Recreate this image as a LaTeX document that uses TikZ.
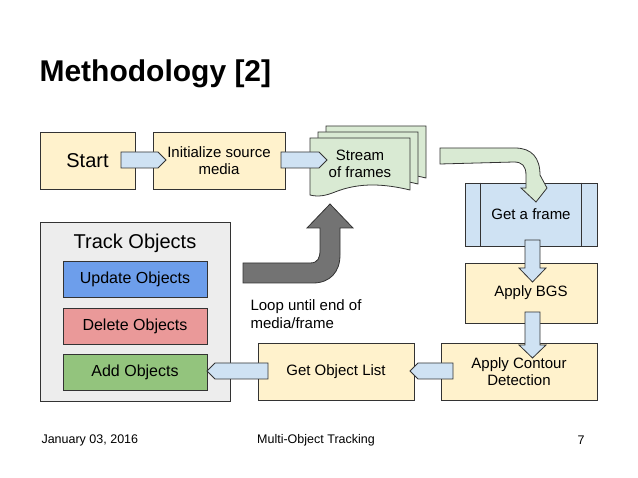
\documentclass[tikz,border=0pt]{standalone}
\usepackage{fontspec}
\setmainfont{Liberation Sans}
\begin{document}
\begin{tikzpicture}[x=1pt,y=-1pt,
  box/.style={draw=black!80,line width=0.8pt,fill=yel,align=center,font=\fontsize{15}{17}\selectfont},
  ar/.style={draw=black!80,line width=0.8pt,fill=lblue}]
\definecolor{yel}{HTML}{FFF2CC}
\definecolor{lblue}{HTML}{CFE2F3}
\definecolor{lgreen}{HTML}{D9EAD3}
\definecolor{upd}{HTML}{6D9EEB}
\definecolor{del}{HTML}{EA9999}
\definecolor{add}{HTML}{93C47D}
\useasboundingbox (0,0) rectangle (638,478);
\node[anchor=west,font=\bfseries\fontsize{30}{34}\selectfont] (title) at (36,74) {Methodology [2]};
% boxes
\node[box,minimum width=95,minimum height=57,font=\fontsize{20}{22}\selectfont] (start) at (87.5,160.5) {Start};
\node[box,minimum width=132,minimum height=57] (init) at (219,160.5) {Initialize source\\media};
% stream of frames
\foreach \dx/\dy in {16/-12,8/-6}{
 \draw[black!80,line width=0.8pt,fill=lgreen,shift={(\dx,\dy)}] (310,138) -- (410,138) -- (410,190) .. controls (385,184) and (360,182) .. (335,192) .. controls (325,196) and (318,197) .. (310,195) -- cycle;}
\draw[black!80,line width=0.8pt,fill=lgreen] (310,138) -- (410,138) -- (410,190) .. controls (385,184) and (360,182) .. (335,192) .. controls (325,196) and (318,197) .. (310,195) -- cycle;
\node[align=center,font=\fontsize{15}{17}\selectfont] (stream) at (360,164) {Stream\\of frames};
% get a frame
\node[box,fill=lblue,minimum width=132,minimum height=63] (get) at (531,214.5) {Get a frame};
\draw[black!80,line width=0.8pt] (get.north west)++(16,0) -- ++(0,63) (get.north east)++(-16,0) -- ++(0,63);
\node[box,minimum width=132,minimum height=60] (bgs) at (531,293) {Apply BGS};
\node[box,minimum width=156,minimum height=57] (cont) at (519,371.5) {Apply Contour\\Detection};
\node[box,minimum width=156,minimum height=57] (gol) at (336,371.5) {Get Object List};
% track objects
\node[draw=black!80,line width=0.8pt,fill=black!7,minimum width=190,minimum height=179] (track) at (135,311.5) {};
\node[font=\fontsize{20}{22}\selectfont] (tt) at (135,243) {Track Objects};
\node[box,fill=upd,minimum width=144,minimum height=36,font=\fontsize{16}{18}\selectfont] (upd) at (135,279) {Update Objects};
\node[box,fill=del,minimum width=144,minimum height=36,font=\fontsize{16}{18}\selectfont] (del) at (135,326) {Delete Objects};
\node[box,fill=add,minimum width=144,minimum height=36,font=\fontsize{16}{18}\selectfont] (add) at (135,372) {Add Objects};
% small fat arrows
\draw[ar] (121,152) -- (158,152) -- (166,160) -- (158,168) -- (121,168) -- cycle;
\draw[ar] (281,152) -- (319,152) -- (327,160) -- (319,168) -- (281,168) -- cycle;
\draw[ar] (525,240) -- (540,240) -- (540,268) -- (546,268) -- (532.5,282) -- (519,268) -- (525,268) -- cycle;
\draw[ar] (525,312) -- (540,312) -- (540,345) -- (546,345) -- (532.5,358) -- (519,345) -- (525,345) -- cycle;
\draw[ar] (453,363) -- (418,363) -- (410,371) -- (418,379) -- (453,379) -- cycle;
\draw[ar] (268,363) -- (215,363) -- (207,371) -- (215,379) -- (268,379) -- cycle;
% green curved arrow
\draw[black!80,line width=0.8pt,fill=lgreen] (440,148) -- (515,148) .. controls (532,148) and (540,158) .. (540,175) -- (547,188) -- (536,202) -- (521,188) -- (526,188) -- (526,175) .. controls (526,166) and (522,162) .. (514,162) -- (440,164) -- cycle;
% gray curved arrow
\draw[black!80,line width=0.8pt,fill=black!55] (243,263) -- (310,263) .. controls (318,263) and (320,258) .. (320,250) -- (320,228) -- (307,228) -- (330,204) -- (353,228) -- (340,228) -- (340,255) .. controls (340,272) and (330,283) .. (313,283) -- (243,283) -- cycle;
\node[anchor=north west,align=left,font=\fontsize{15}{18}\selectfont] (loop) at (247,296) {Loop until end of\\media/frame};
% footer
\node[anchor=west,font=\fontsize{12.5}{14}\selectfont] (date) at (38,440) {January 03, 2016};
\node[font=\fontsize{12.5}{14}\selectfont] (mot) at (316,440) {Multi-Object Tracking};
\node[font=\fontsize{12.5}{14}\selectfont] (pg) at (581,440) {7};
\end{tikzpicture}
\end{document}
